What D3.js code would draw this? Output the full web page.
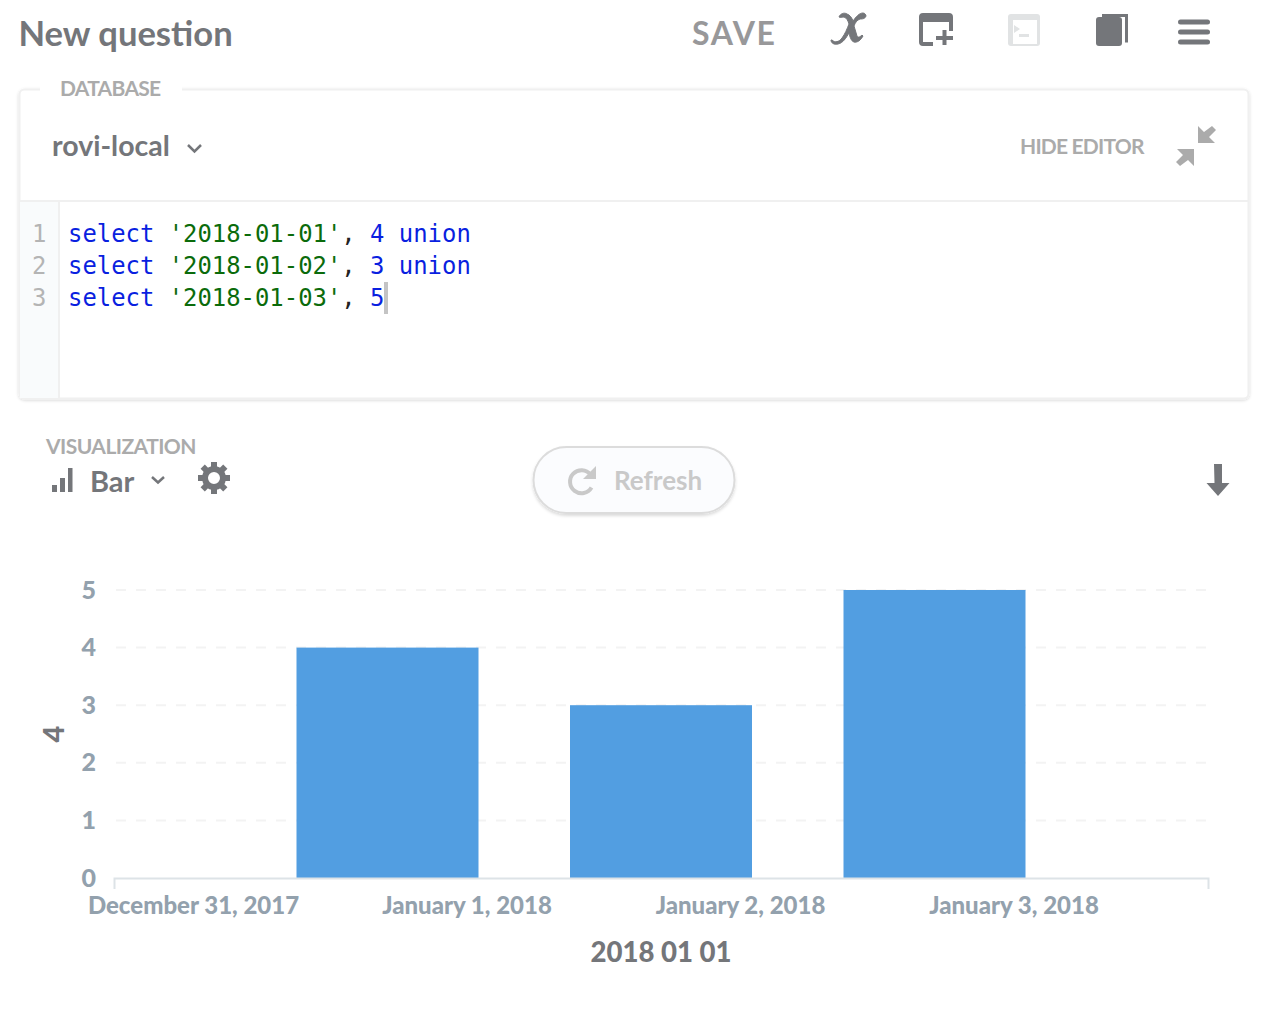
<!DOCTYPE html>
<html>
<head>
<meta charset="utf-8">
<title>New question</title>
<script src="https://cdn.jsdelivr.net/npm/d3@7/dist/d3.min.js"></script>
<style>
  html, body { margin: 0; padding: 0; background: #fff; }
  svg { display: block; }
  text { font-family: Lato, "Open Sans", sans-serif; }
  .code { font-family: "DejaVu Sans Mono", monospace; font-size: 23.900px; }
  .tick-label { font-weight: 900; font-size: 24px; fill: #93a1ad; }
</style>
</head>
<body>
<svg id="page" width="1280" height="1014"></svg>
<script>
// chart values
var dates = ["2018-01-01", "2018-01-02", "2018-01-03"];
var values = [4, 3, 5];
var yTicks = [0, 1, 2, 3, 4, 5];
var xTicks = ["2017-12-31", "2018-01-01", "2018-01-02", "2018-01-03"];
var xDomain = ["2017-12-31", "2018-01-04"];
var sqlLines = [
  [["select ", "kw"], ["'2018-01-01'", "str"], [", ", "pun"], ["4 union", "kw"]],
  [["select ", "kw"], ["'2018-01-02'", "str"], [", ", "pun"], ["3 union", "kw"]],
  [["select ", "kw"], ["'2018-01-03'", "str"], [", ", "pun"], ["5", "kw"]]
];
var codeColors = { kw: "#0a1fe0", str: "#0b6b0b", pun: "#222" };

var parseDay = d3.utcParse("%Y-%m-%d");
var formatDay = d3.utcFormat("%B %-d, %Y");

var svg = d3.select("#page");
var dark = "#74767a", pale = "#ababab";

function label(x, y, str, size, fill, weight) {
  return svg.append("text")
    .attr("x", x).attr("y", y)
    .attr("font-size", size)
    .attr("font-weight", weight || 700)
    .attr("fill", fill)
    .text(str);
}

// --------- header -----------
label(18.500, 46, "New question", 34.600, dark);
label(692, 45, "SAVE", 32, "#98989a").attr("letter-spacing", 1.6);

// the "x" icon
svg.append("path")
  .attr("fill", dark)
  .attr("stroke", dark)
  .attr("stroke-width", 1)
  .attr("d", "M832 40c3 3 7 2 10-2 3-4 5-9 7-14 -1-3-2-6-5-7-2 0-3 1-5 0 1-3 5-5 8-3 3 1 5 4 6 7 3-4 6-8 10-8 2 0 3 2 3 3-1 3-4 3-6 3-3 1-5 4-6 7l3 10c1 2 3 1 5-1l1 1c-2 4-6 7-9 6-3-1-4-5-5-9-3 5-6 10-11 11-4 1-7-1-7-4z");

// add to dashboard icon
svg.append("path")
  .attr("fill", "none").attr("stroke", dark).attr("stroke-width", 4)
  .attr("d", "M933 44h-10a2 2 0 0 1-2-2v-25a2 2 0 0 1 2-2h26a2 2 0 0 1 2 2v14");
svg.append("rect").attr("x", 921).attr("y", 14).attr("width", 31).attr("height", 8).attr("rx", 2).attr("fill", dark);
svg.append("path").attr("stroke", dark).attr("stroke-width", 4).attr("d", "M936 38h17M944.500 30v15");

// sql snippet icon, disabled
svg.append("rect").attr("x", 1008).attr("y", 14).attr("width", 32).attr("height", 32).attr("rx", 3).attr("fill", "#e1e3e4");
svg.append("rect").attr("x", 1013).attr("y", 20).attr("width", 24).attr("height", 24).attr("fill", "#fff");
svg.append("path").attr("fill", "#e1e3e4").attr("d", "M1014 25l6 4-6 4zM1019 34h10v3h-10z");

// bookmark / collection icon
svg.append("rect").attr("x", 1096).attr("y", 17).attr("width", 26).attr("height", 29).attr("rx", 3).attr("fill", dark);
svg.append("path").attr("fill", "none").attr("stroke", dark).attr("stroke-width", 3)
  .attr("d", "M1102 15.500h24.500v27");

// hamburger
[22, 32, 42].forEach(function(y) {
  svg.append("rect").attr("x", 1178).attr("y", y - 2.500).attr("width", 32).attr("height", 5).attr("rx", 2.500).attr("fill", dark);
});

// --------- editor card -----------
var defs = svg.append("defs");
var shadow = defs.append("filter").attr("id", "cardShadow")
  .attr("x", "-5%").attr("y", "-5%").attr("width", "110%").attr("height", "110%");
shadow.append("feDropShadow").attr("dx", 0).attr("dy", 1).attr("stdDeviation", 1.500)
  .attr("flood-color", "#000").attr("flood-opacity", 0.16);

svg.append("rect")
  .attr("x", 19.500).attr("y", 89.500).attr("width", 1229).attr("height", 309).attr("rx", 5)
  .attr("fill", "#fff").attr("stroke", "#f0f0f0").attr("stroke-width", 2)
  .attr("filter", "url(#cardShadow)");
svg.append("rect").attr("x", 40).attr("y", 84).attr("width", 142).attr("height", 12).attr("fill", "#fff");
label(60, 96, "DATABASE", 21, pale).attr("letter-spacing", -0.7);

label(52, 156, "rovi-local", 28.500, dark);
svg.append("path").attr("fill", "none").attr("stroke", dark).attr("stroke-width", 2.500)
  .attr("d", "M188 145l6.500 6.500 6.500-6.500");
label(1020, 154, "HIDE EDITOR", 21, pale).attr("letter-spacing", -0.8);
svg.append("path").attr("fill", pale)
  .attr("d", "M1212 126l4 4-7 7 6 6h-17v-17l6 6zM1180 166l-4-4 7-7-6-6h17v17l-6-6z");

svg.append("rect").attr("x", 20).attr("y", 202).attr("width", 39).attr("height", 196).attr("fill", "#f9fbfc");
svg.append("rect").attr("x", 20).attr("y", 200).attr("width", 1228).attr("height", 2).attr("fill", "#f0f0f0");
svg.append("rect").attr("x", 58).attr("y", 202).attr("width", 2).attr("height", 196).attr("fill", "#f0f0f0");

var lineY = d3.scaleLinear().domain([0, 1]).range([242, 274]);

svg.selectAll(".gutter")
  .data(sqlLines)
  .enter()
  .append("text")
  .attr("class", "gutter code")
  .attr("x", 32)
  .attr("y", function(d, i) { return lineY(i); })
  .attr("fill", "#b4b4b4")
  .text(function(d, i) { return i + 1; });

var codeLine = svg.selectAll(".sql")
  .data(sqlLines)
  .enter()
  .append("text")
  .attr("class", "sql code")
  .attr("x", 68)
  .attr("y", function(d, i) { return lineY(i); })
  .style("white-space", "pre");

codeLine.selectAll("tspan")
  .data(function(d) { return d; })
  .enter()
  .append("tspan")
  .attr("fill", function(d) { return codeColors[d[1]]; })
  .text(function(d) { return d[0]; });

// text cursor
svg.append("rect").attr("x", 384).attr("y", 282).attr("width", 4).attr("height", 32).attr("fill", "#c4c4c4");

// --------- visualization toolbar -----------
label(46, 454, "VISUALIZATION", 21, pale).attr("letter-spacing", -0.55);
svg.append("path").attr("fill", dark).attr("d", "M52 485h5v7h-5zM60 478h5v14h-5zM68 468h4.500v24h-4.500z");
label(90, 492, "Bar", 29, dark);
svg.append("path").attr("fill", "none").attr("stroke", dark).attr("stroke-width", 2.500)
  .attr("d", "M152 477l6 5.500 6-5.500");

// gear
var gear = svg.append("g").attr("transform", "translate(214,478)");
gear.append("circle").attr("r", 9).attr("fill", "none").attr("stroke", dark).attr("stroke-width", 6);
d3.range(8).forEach(function(i) {
  gear.append("rect")
    .attr("x", -3).attr("y", -16).attr("width", 6).attr("height", 7)
    .attr("fill", dark)
    .attr("transform", "rotate(" + (i * 45) + ")");
});

// refresh button
var btnShadow = defs.append("filter").attr("id", "btnShadow")
  .attr("x", "-5%").attr("y", "-10%").attr("width", "110%").attr("height", "130%");
btnShadow.append("feDropShadow").attr("dx", 0).attr("dy", 2).attr("stdDeviation", 1.500)
  .attr("flood-color", "#000").attr("flood-opacity", 0.14);
svg.append("rect")
  .attr("x", 533.500).attr("y", 447).attr("width", 201).attr("height", 66).attr("rx", 33)
  .attr("fill", "#fbfcfe").attr("stroke", "#dcdcdc").attr("stroke-width", 2)
  .attr("filter", "url(#btnShadow)");
svg.append("path").attr("fill", "none").attr("stroke", "#c9c9c9").attr("stroke-width", 4)
  .attr("d", "M590.500 474.500a11.500 11.500 0 1 0 1 13");
svg.append("path").attr("fill", "#c9c9c9").attr("d", "M596 466v13h-13z");
label(614, 490, "Refresh", 26, "#c9c9c9");

// download arrow
svg.append("path").attr("fill", dark)
  .attr("d", "M1214 464h8v19h7.500l-11.500 13-11.500-13h8z");

// --------- bar chart -----------
var x = d3.scaleUtc()
  .domain(xDomain.map(parseDay))
  .range([114, 1208]);

var y = d3.scaleLinear()
  .domain([0, 5])
  .range([878, 590]);

var barWidth = 182;

svg.append("g")
  .attr("class", "grid")
  .selectAll("line")
  .data(yTicks.slice(1))
  .enter()
  .append("line")
  .attr("x1", 116)
  .attr("x2", 1208)
  .attr("y1", function(d) { return y(d); })
  .attr("y2", function(d) { return y(d); })
  .attr("stroke", "#f3f3f3")
  .attr("stroke-width", 2)
  .attr("stroke-dasharray", "10,10");

svg.append("g")
  .attr("class", "bars")
  .selectAll("rect")
  .data(values)
  .enter()
  .append("rect")
  .attr("x", function(d, i) { return x(parseDay(dates[i])) - barWidth / 2; })
  .attr("y", function(d) { return y(d); })
  .attr("width", barWidth)
  .attr("height", function(d) { return y(0) - y(d); })
  .attr("fill", "#529ee1");

var xAxis = svg.append("g")
  .attr("class", "x-axis")
  .attr("transform", "translate(0,878)")
  .call(d3.axisBottom(x)
    .tickValues(xTicks.map(parseDay))
    .tickFormat(formatDay)
    .tickSize(0)
    .tickSizeOuter(11)
    .tickPadding(18.500));

xAxis.select(".domain").attr("stroke", "#dde3e7").attr("stroke-width", 2);
// the labels sit half a bar step to the right of their dates
xAxis.selectAll(".tick text")
  .attr("class", "tick-label")
  .attr("dx", 79)
  .attr("dy", "0.71em");

var yAxis = svg.append("g")
  .attr("class", "y-axis")
  .attr("transform", "translate(114,0)")
  .call(d3.axisLeft(y)
    .tickValues(yTicks)
    .tickFormat(d3.format("d"))
    .tickSize(0)
    .tickPadding(18));

yAxis.select(".domain").remove();
yAxis.selectAll(".tick text").attr("class", "tick-label").style("font-size", "25px");

svg.append("text")
  .attr("x", 661)
  .attr("y", 962)
  .attr("text-anchor", "middle")
  .attr("font-size", 27.600)
  .attr("font-weight", 900)
  .attr("fill", dark)
  .text("2018 01 01");

svg.append("text")
  .attr("transform", "translate(64,734) rotate(-90)")
  .attr("text-anchor", "middle")
  .attr("font-size", 29)
  .attr("font-weight", 900)
  .attr("fill", dark)
  .text("4");
</script>
</body>
</html>
